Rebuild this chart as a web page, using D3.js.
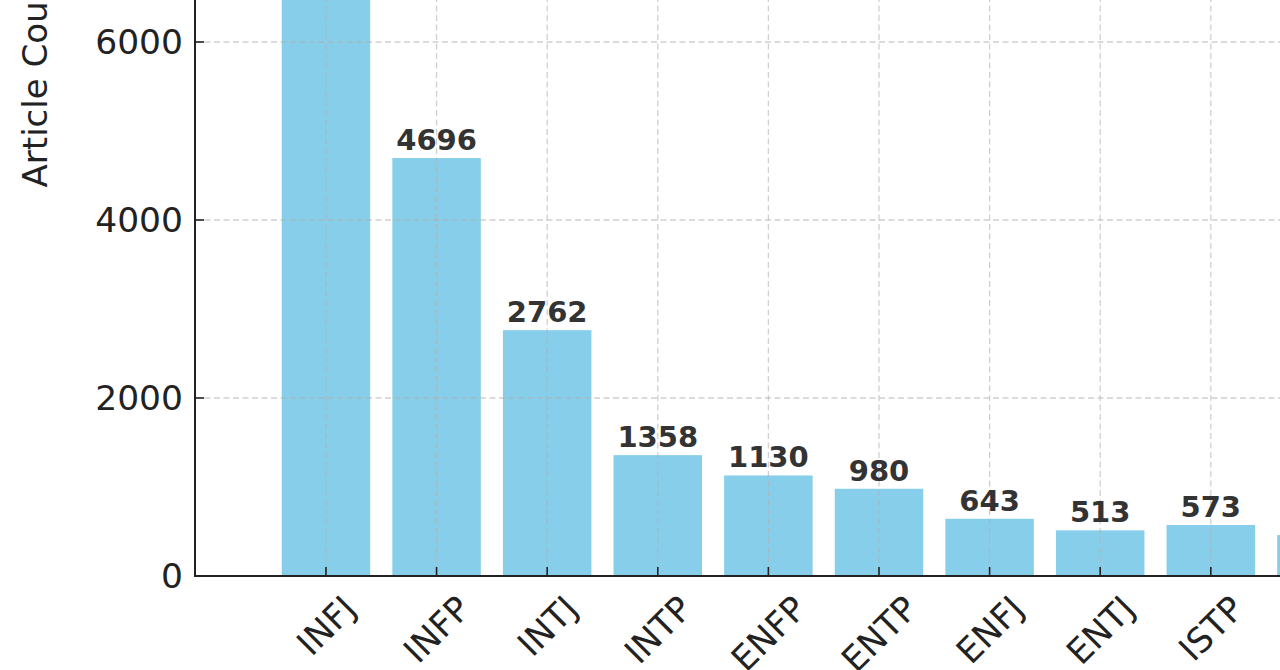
<!DOCTYPE html>
<html>
<head>
<meta charset="utf-8">
<script src="https://cdn.jsdelivr.net/npm/d3@7"></script>
<style>
  html, body { margin: 0; padding: 0; background: #fff; overflow: hidden; }
  svg { display: block; font-family: "DejaVu Sans", sans-serif; }
</style>
</head>
<body>
<div id="chart"></div>
<script>
// MBTI types, in plotting order (only the first ten fall inside the view)
const types = ["INFJ", "INFP", "INTJ", "INTP", "ENFP", "ENTP", "ENFJ", "ENTJ",
               "ISTP", "ISFJ", "ISFP", "ISTJ", "ESTP", "ESFP", "ESFJ", "ESTJ"];
// article counts per type; INFJ and the ones past ISFJ are outside the crop (estimated)
const counts = [10680, 4696, 2762, 1358, 1130, 980, 643, 513,
                573, 460, 420, 380, 240, 200, 190, 170];
const yTicks = [0, 2000, 4000, 6000, 8000, 10000];

const W = 1280, H = 670;
// the picture is a crop of a bigger figure, so the axes run past the edges
const axes = { left: 195, right: 2116, top: -422, bottom: 576 };

const svg = d3.select("#chart").append("svg")
    .attr("width", W)
    .attr("height", H);

const x = d3.scaleBand()
    .domain(types)
    .range([axes.left, axes.right])
    .paddingInner(0.2)
    .paddingOuter(0.784);

const y = d3.scaleLinear()
    .domain([0, 11213])
    .range([axes.bottom, axes.top]);

const data = types.map((t, i) => ({ type: t, count: counts[i] }));

// bars
svg.selectAll(".bar")
    .data(data)
    .enter().append("rect")
    .attr("class", "bar")
    .attr("x", d => x(d.type))
    .attr("y", d => y(d.count))
    .attr("width", x.bandwidth())
    .attr("height", d => y(0) - y(d.count))
    .attr("fill", "#87CEEB");

// grid sits on top of the bars
const grid = svg.append("g")
    .attr("stroke", "#b0b0b0")
    .attr("stroke-opacity", 0.6)
    .attr("stroke-width", 1.3)
    .attr("stroke-dasharray", "6,3.5");

grid.selectAll(".vgrid")
    .data(types)
    .enter().append("line")
    .attr("x1", d => x(d) + x.bandwidth() / 2)
    .attr("x2", d => x(d) + x.bandwidth() / 2)
    .attr("y1", axes.top)
    .attr("y2", axes.bottom);

grid.selectAll(".hgrid")
    .data(yTicks.filter(v => v > 0))
    .enter().append("line")
    .attr("x1", axes.left)
    .attr("x2", axes.right)
    .attr("y1", d => y(d))
    .attr("y2", d => y(d));

// value labels
svg.selectAll(".val")
    .data(data)
    .enter().append("text")
    .attr("x", d => x(d.type) + x.bandwidth() / 2)
    .attr("y", d => y(d.count) - 8)
    .attr("text-anchor", "middle")
    .attr("font-size", 29)
    .attr("font-weight", "bold")
    .attr("fill", "#333")
    .text(d => d.count);

// spines + inward ticks
const axisColor = "#222";
svg.append("line")
    .attr("x1", axes.left).attr("x2", axes.left)
    .attr("y1", axes.top).attr("y2", axes.bottom + 1)
    .attr("stroke", axisColor).attr("stroke-width", 2);
svg.append("line")
    .attr("x1", axes.left - 1).attr("x2", axes.right)
    .attr("y1", axes.bottom).attr("y2", axes.bottom)
    .attr("stroke", axisColor).attr("stroke-width", 2);

svg.selectAll(".xtick")
    .data(types)
    .enter().append("line")
    .attr("x1", d => x(d) + x.bandwidth() / 2)
    .attr("x2", d => x(d) + x.bandwidth() / 2)
    .attr("y1", axes.bottom)
    .attr("y2", axes.bottom - 9)
    .attr("stroke", axisColor).attr("stroke-width", 1.6);

svg.selectAll(".ytick")
    .data(yTicks)
    .enter().append("line")
    .attr("x1", axes.left)
    .attr("x2", axes.left + 9)
    .attr("y1", d => y(d))
    .attr("y2", d => y(d))
    .attr("stroke", axisColor).attr("stroke-width", 1.6);

// y tick labels
svg.selectAll(".ylab")
    .data(yTicks)
    .enter().append("text")
    .attr("x", axes.left - 12)
    .attr("y", d => y(d))
    .attr("dy", "0.36em")
    .attr("text-anchor", "end")
    .attr("font-size", 34.5)
    .attr("fill", "#222")
    .text(d => d);

// x tick labels, rotated 45deg, bbox centred on the tick
const labelTop = axes.bottom + 17;
const fs = 34.5, capH = fs * 0.73;
svg.selectAll(".xlab")
    .data(types)
    .enter().append("text")
    .attr("text-anchor", "middle")
    .attr("font-size", fs)
    .attr("fill", "#222")
    .text(d => d)
    .each(function(d) {
        const w = this.getComputedTextLength();
        const cx = x(d) + x.bandwidth() / 2;
        const cy = labelTop + (w + capH) / (2 * Math.SQRT2);
        d3.select(this)
            .attr("x", cx)
            .attr("y", cy + capH / 2)
            .attr("transform", `rotate(-45,${cx},${cy})`);
    });

// y axis title
const titleX = 47, titleY = (axes.top + axes.bottom) / 2;
svg.append("text")
    .attr("x", titleX)
    .attr("y", titleY)
    .attr("transform", `rotate(-90,${titleX},${titleY})`)
    .attr("text-anchor", "middle")
    .attr("font-size", 34)
    .attr("fill", "#222")
    .text("Article Count");
</script>
</body>
</html>
